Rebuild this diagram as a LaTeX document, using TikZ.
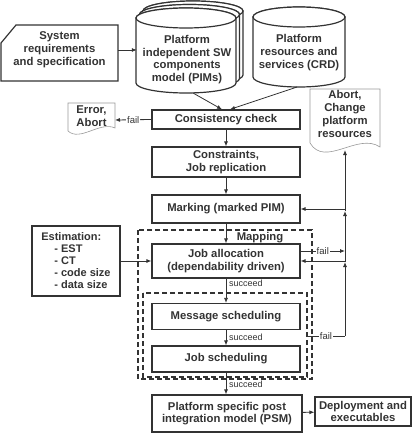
\documentclass[tikz,border=0pt]{standalone}
\usepackage{fontspec}
\setmainfont{Liberation Sans}
\usetikzlibrary{arrows.meta,calc}
\definecolor{ink}{HTML}{333333}
\definecolor{lite}{HTML}{9A9A9A}
\tikzset{
  box/.style={draw=ink, line width=1.2pt, fill=white, text=ink, font=\bfseries\fontsize{11.3}{12.5}\selectfont, align=center, inner sep=0pt},
  txt/.style={text=ink, font=\bfseries\fontsize{11.3}{13}\selectfont, align=center, inner sep=0pt},
  arr/.style={draw=ink, line width=0.8pt, -{Latex[length=5pt,width=4pt]}},
  ln/.style={draw=ink, line width=0.8pt},
  lbl/.style={fill=white, text=ink, font=\fontsize{9.5}{10}\selectfont, inner sep=1pt},
  slbl/.style={text=ink, font=\fontsize{9}{10}\selectfont, inner sep=0pt, anchor=west},
  dbox/.style={draw=ink, line width=1.3pt, dash pattern=on 5pt off 3pt},
  docshape/.style={draw=lite, line width=0.6pt, fill=white},
  cyl/.style={draw=ink, line width=1.2pt, fill=white},
}
\newcommand{\mycyl}[5]{%
  \filldraw[cyl] (#1-#4,#2) -- (#1-#4,#3) arc[start angle=180,end angle=0,x radius=#4,y radius=#5] -- (#1+#4,#2) arc[start angle=0,end angle=-180,x radius=#4,y radius=#5] -- cycle;
  \draw[cyl] (#1,#2) ellipse[x radius=#4,y radius=#5];
}
\begin{document}
\begin{tikzpicture}[x=1pt,y=-1pt]
\useasboundingbox (0,0) rectangle (415,433);
% system requirements
\filldraw[draw=ink, line width=1.2pt, fill=white] (1,43) -- (16,25) -- (118,25) -- (118,81) -- (1,81) -- cycle;
\node[txt, minimum width=117, minimum height=56] (sys) at (59.5,50) {System\\requirements\\and specification};
% PIM stacked cylinders
\mycyl{193}{11}{75}{50}{10}
\mycyl{189.5}{14.5}{78.5}{50}{10}
\mycyl{186}{18}{83}{50}{10}
\node[txt, minimum width=100, minimum height=60, font=\bfseries\fontsize{11.3}{12.7}\selectfont] (pim) at (187,59.5) {Platform\\independent SW\\components\\model (PIMs)};
% CRD
\mycyl{299}{17}{77}{46}{10}
\node[txt] (crd) at (299,52.5) {Platform\\resources and\\services (CRD)};
\coordinate (pimB) at (193,93);
\coordinate (crdB) at (297,87);
% main boxes
\node[box, minimum width=148, minimum height=19] (cc) at (226,119.5) {Consistency check};
\node[box, minimum width=148, minimum height=30] (cons) at (226,162) {Constraints,\\Job replication};
\node[box, minimum width=148, minimum height=28] (mark) at (226,209) {Marking (marked PIM)};
% dashed containers
\draw[dbox] (138,230) rectangle (312,379);
\draw[dbox] (143,293) rectangle (307,377);
\node[txt] (mapping) at (260,238) {Mapping};
\node[box, minimum width=148, minimum height=34] (alloc) at (226,261) {Job allocation\\(dependability driven)};
\node[box, minimum width=148, minimum height=26] (msg) at (226,316.5) {Message scheduling};
\node[box, minimum width=148, minimum height=26] (jsch) at (226,359) {Job scheduling};
\node[box, minimum width=150, minimum height=37] (psm) at (227,413.5) {Platform specific post\\integration model (PSM)};
\node[box, minimum width=96, minimum height=29] (dep) at (363,411.5) {Deployment and\\executables};
% estimation
\node[box, minimum width=88, minimum height=70, align=left, font=\bfseries\fontsize{11}{12}\selectfont] (est) at (76,261) {Estimation:\\\hspace*{13pt}- EST\\\hspace*{13pt}- CT\\\hspace*{13pt}- code size\\\hspace*{13pt}- data size};
% documents
\filldraw[docshape] (115,128) -- (115,103) -- (68,103) -- (68,131) .. controls (80,142) and (100,121) .. (115,128) -- cycle;
\node[txt] (err) at (91.5,116) {Error,\\Abort};
\coordinate (errE) at (115,120);
\filldraw[docshape] (380,147) -- (380,89) -- (310,89) -- (310,143) .. controls (325,168) and (358,132) .. (380,147) -- cycle;
\node[txt] (abort) at (345,114) {Abort,\\Change\\platform\\resources};
\coordinate (abortB) at (345,150);
% connectors
\draw[arr] (sys.east |- 0,50) -- (pim.west |- 0,50);
\draw[arr] (pimB) -- ([xshift=-4pt]cc.north);
\draw[arr] (crdB) -- ([xshift=4pt]cc.north);
\draw[arr] (cc.west) -- node[lbl] {fail} (errE);
\draw[arr] (cc) -- (cons);
\draw[arr] (cons) -- (mark);
\draw[arr] (mark) -- (alloc);
\draw[arr] (alloc) -- (msg);
\draw[arr] (msg) -- (jsch);
\draw[arr] (jsch.south) -- (psm.north -| jsch.south);
\draw[arr] (est) -- (alloc);
\draw[arr] (psm) -- (dep);
\node[slbl] at (229,283) {succeed};
\node[slbl] at (229,337.5) {succeed};
\node[slbl] at (229,384) {succeed};
% right feedback
\coordinate (f1) at (307,336);
\coordinate (v1) at (345,336);
\coordinate (v2) at (345,262);
\coordinate (v3) at (345,211);
\coordinate (vf) at (345,251);
\coordinate (vr1) at (345,261);
\coordinate (vr2) at (345,209);
\draw[ln] (f1) -- node[lbl] {fail} (v1);
\draw[arr] (v1) -- (v2);
\draw[arr] (v2) -- (v3);
\draw[arr] (v3) -- (abortB);
\draw[arr] ([yshift=10pt]alloc.east) -- node[lbl] {fail} (vf);
\draw[arr] (vr1) -- (alloc.east);
\draw[arr] (vr2) -- (mark.east);
\end{tikzpicture}
\end{document}
